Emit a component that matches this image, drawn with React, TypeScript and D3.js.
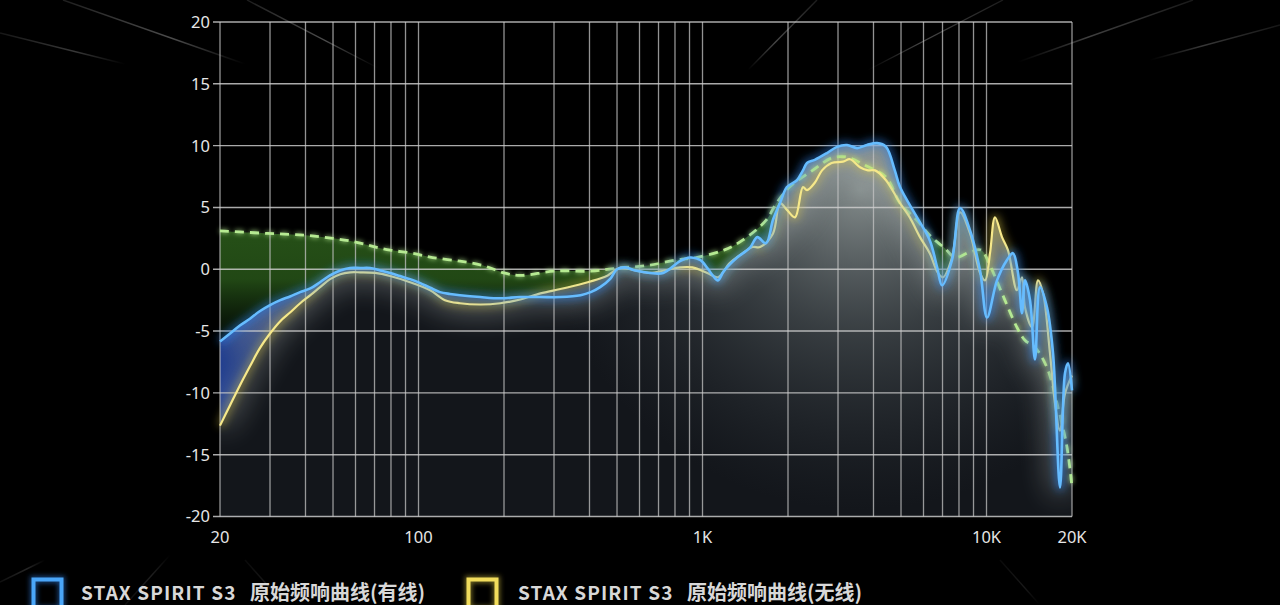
import React from "react";
import * as d3 from "d3";

// ---- data: [frequency Hz, level dB] ----
const wired: [number, number][] = [
  [20, -5.85], [21.7, -5.2], [23.5, -4.55], [25.5, -4.0], [27.6, -3.4], [30, -2.9], [32.6, -2.5], [35.3, -2.2],
  [38.3, -1.85], [41.6, -1.55], [45, -1.05], [48.8, -0.5], [53, -0.1], [57.4, 0.1], [62.3, 0.1], [67.5, 0.1],
  [73.3, -0.1], [79.5, -0.3], [86.1, -0.55], [93.4, -0.8], [101, -1.1], [110, -1.5], [119, -1.85], [129, -2.0],
  [140, -2.1], [165, -2.25], [194, -2.35], [228, -2.25], [269, -2.25], [316, -2.25], [372, -2.1], [404, -1.85],
  [436, -1.45], [474, -0.75], [500, 0], [534, 0.15], [580, -0.1], [653, -0.3], [727, -0.3], [833, 0.65],
  [902, 0.95], [980, 0.75], [1040, 0.1], [1086, -0.5], [1133, -0.9], [1181, -0.25], [1219, 0.15], [1324, 0.95],
  [1470, 1.75], [1560, 2.6], [1673, 2.1], [1771, 4.0], [1874, 5.35], [1983, 6.65], [2151, 7.2], [2258, 8.0],
  [2333, 8.6], [2485, 8.85], [2744, 9.4], [2975, 9.9], [3227, 10.05], [3502, 9.8], [3795, 10.05], [4120, 10.2],
  [4428, 9.9], [4754, 8.0], [4960, 6.65], [5692, 4.2], [6311, 2.35], [6702, 0.15], [6973, -1.3], [7560, 0.75],
  [8068, 4.95], [8750, 3.15], [9490, -0.1], [10045, -3.9], [10890, -0.9], [11809, 0.75], [12394, 1.3],
  [12910, -0.3], [13335, -3.55], [13665, -0.9], [14228, -2.5], [14817, -7.3], [15432, -1.45], [16333, -3.1],
  [17147, -6.8], [18146, -17.65], [18896, -8.4], [19361, -7.6], [20000, -9.8],
];

const wireless: [number, number][] = [
  [20, -12.65], [21.7, -11.0], [23.5, -9.4], [25.5, -7.85], [27.6, -6.4], [30, -5.2], [32.6, -4.2], [35.3, -3.5],
  [38.3, -2.75], [41.6, -2.1], [45, -1.45], [48.8, -0.8], [53, -0.4], [57.4, -0.25], [62.3, -0.25], [70.5, -0.3],
  [79.5, -0.55], [93.4, -1.05], [110, -1.7], [124, -2.5], [140, -2.75], [165, -2.85], [194, -2.75], [228, -2.45],
  [269, -1.95], [316, -1.6], [380, -1.15], [436, -0.75], [464, -0.5], [512, 0.1], [580, -0.1], [653, -0.3],
  [735, -0.1], [833, 0.15], [922, 0.15], [1040, -0.3], [1133, -0.65], [1247, 0.5], [1385, 1.3], [1500, 1.8],
  [1594, 1.8], [1771, 2.9], [1874, 5.35], [1983, 4.8], [2117, 4.2], [2258, 6.65], [2333, 6.4], [2485, 7.0],
  [2636, 8.0], [2846, 8.6], [3124, 8.7], [3306, 8.9], [3586, 8.25], [3826, 8.0], [4051, 8.0], [4428, 7.2],
  [4960, 5.35], [5370, 4.2], [5833, 2.6], [6311, 1.3], [6749, -0.3], [7029, -0.65], [7560, 0.95], [8068, 4.6],
  [8750, 2.9], [9490, -0.3], [9883, -0.9], [10288, 1.3], [10713, 4.2], [11340, 2.6], [11900, 1.55],
  [12802, -1.7], [13335, -0.65], [13665, -3.1], [14461, -4.7], [15182, -0.9], [15812, -1.95], [16733, -6.8],
  [17426, -10.85], [18146, -13.05], [18896, -10.05], [20000, -8.6],
];

const target: [number, number][] = [
  [20, 3.1], [29.3, 2.9], [40, 2.75], [50, 2.5], [60, 2.2], [69, 1.85], [79.5, 1.55], [95, 1.3], [112, 0.95],
  [140, 0.65], [169, 0.3], [200, -0.3], [228, -0.5], [300, -0.15], [405, -0.15], [508, 0.1], [640, 0.3],
  [810, 0.75], [950, 0.95], [1190, 1.55], [1385, 2.35], [1673, 3.95], [1822, 5.35], [2026, 6.65], [2440, 8.0],
  [2846, 9.0], [3124, 9.1], [3306, 9.0], [3700, 8.45], [4428, 7.45], [4960, 5.35], [5692, 3.95], [6400, 2.6],
  [7136, 1.7], [7750, 0.95], [8750, 1.4], [9560, 1.55], [10360, 0.15], [11340, -1.95], [12802, -4.7],
  [13665, -5.75], [14798, -6.3], [16333, -7.95], [17710, -10.85], [19200, -14.4], [20000, -17.65],
];

const gridFreqs: number[] = [
  20, 30, 40, 50, 60, 70, 80, 90, 100, 200, 300, 400, 500, 600, 700, 800, 900, 1000,
  2000, 3000, 4000, 5000, 6000, 7000, 8000, 9000, 10000, 20000,
];
const xTickValues: number[] = [20, 100, 1000, 10000, 20000];
const xTickLabels: string[] = ["20", "100", "1K", "10K", "20K"];
const yTickValues: number[] = [20, 15, 10, 5, 0, -5, -10, -15, -20];

const legendNames: string[] = ["STAX SPIRIT S3", "STAX SPIRIT S3"];
const legendLabels: string[] = ["原始频响曲线(有线)", "原始频响曲线(无线)"];

// decorative background rays [x1,y1,x2,y2,opacity]
const rays: number[][] = [
  [0, 33, 125, 64, 0.22],
  [63, 0, 245, 64, 0.3],
  [247, 0, 378, 68, 0.3],
  [817, 0, 748, 70, 0.28],
  [1003, 0, 868, 70, 0.28],
  [1193, 0, 1018, 62, 0.25],
  [1280, 25, 1150, 60, 0.22],
  [0, 582, 45, 560, 0.15],
  [125, 605, 170, 555, 0.12],
  [245, 560, 285, 605, 0.1],
  [1000, 560, 1040, 605, 0.1],
];

export default function App() {
  const W = 1280;
  const H = 605;
  const x = d3.scaleLog().domain([20, 20000]).range([220, 1072]);
  const y = d3.scaleLinear().domain([-20, 20]).range([516.5, 22]);

  const line = d3
    .line<[number, number]>()
    .x((d) => x(d[0]))
    .y((d) => y(d[1]))
    .curve(d3.curveCatmullRom.alpha(0.5));
  const area = d3
    .area<[number, number]>()
    .x((d) => x(d[0]))
    .y0(y(-20))
    .y1((d) => y(d[1]))
    .curve(d3.curveCatmullRom.alpha(0.5));

  const font = "'Noto Sans', 'Open Sans', sans-serif";
  const cjk = "'Noto Sans CJK SC', 'Noto Sans', sans-serif";
  const wiredLine = line(wired) || "";
  const wirelessLine = line(wireless) || "";
  const wiredArea = area(wired) || "";
  const wirelessArea = area(wireless) || "";

  return (
    <svg
      width={W}
      height={H}
      style={{ position: "fixed", left: 0, top: 0, background: "#000", display: "block" }}
    >
      <style>{`body{margin:0;background:#000}`}</style>
      <defs>
        <filter id="glow" x="-10%" y="-10%" width="120%" height="120%">
          <feGaussianBlur stdDeviation="2.5" result="b" />
          <feMerge>
            <feMergeNode in="b" />
            <feMergeNode in="SourceGraphic" />
          </feMerge>
        </filter>
        <filter id="halo" x="-10%" y="-10%" width="120%" height="120%">
          <feGaussianBlur stdDeviation="4" />
        </filter>
        <filter id="bigBlur" filterUnits="userSpaceOnUse" x="100" y="-100" width="1100" height="800">
          <feGaussianBlur stdDeviation="15" />
        </filter>
        <filter id="soft" x="-30%" y="-30%" width="160%" height="160%">
          <feGaussianBlur stdDeviation="2.5" />
        </filter>
        <clipPath id="underCurves">
          <path d={wiredArea} />
          <path d={wirelessArea} />
        </clipPath>
        <clipPath id="plotClip">
          <rect x={220} y={22} width={852} height={495} />
        </clipPath>
        <radialGradient id="peakGlow" gradientUnits="userSpaceOnUse" cx="860" cy="190" r="320">
          <stop offset="0" stopColor="rgb(170,180,178)" stopOpacity="0.75" />
          <stop offset="0.45" stopColor="rgb(110,120,122)" stopOpacity="0.4" />
          <stop offset="1" stopColor="rgb(60,68,75)" stopOpacity="0" />
        </radialGradient>
        <linearGradient id="greenFill" gradientUnits="userSpaceOnUse" x1="0" y1="225" x2="0" y2="360">
          <stop offset="0" stopColor="rgb(45,95,28)" stopOpacity="0.85" />
          <stop offset="0.4" stopColor="rgb(42,90,26)" stopOpacity="0.8" />
          <stop offset="0.75" stopColor="rgb(25,60,20)" stopOpacity="0.35" />
          <stop offset="1" stopColor="rgb(10,30,10)" stopOpacity="0" />
        </linearGradient>
        <linearGradient id="blueTint" gradientUnits="userSpaceOnUse" x1="220" y1="0" x2="520" y2="0">
          <stop offset="0" stopColor="rgb(25,60,160)" stopOpacity="0.85" />
          <stop offset="0.4" stopColor="rgb(25,50,120)" stopOpacity="0.45" />
          <stop offset="1" stopColor="rgb(25,50,120)" stopOpacity="0" />
        </linearGradient>
        {rays.map((r, i) => (
          <linearGradient
            key={i}
            id={`ray${i}`}
            gradientUnits="userSpaceOnUse"
            x1={r[0]}
            y1={r[1]}
            x2={r[2]}
            y2={r[3]}
          >
            <stop offset="0" stopColor="#fff" stopOpacity={r[4] * 0.4} />
            <stop offset="0.6" stopColor="#fff" stopOpacity={r[4]} />
            <stop offset="1" stopColor="#fff" stopOpacity="0" />
          </linearGradient>
        ))}
      </defs>

      <rect x={0} y={0} width={W} height={H} fill="#000" />

      {rays.map((r, i) => (
        <line key={i} x1={r[0]} y1={r[1]} x2={r[2]} y2={r[3]} stroke={`url(#ray${i})`} strokeWidth={1.4} />
      ))}

      {/* green area under target */}
      <path d={area(target) || ""} fill="url(#greenFill)" clipPath="url(#plotClip)" />

      {/* glow area under measured curves */}
      <g clipPath="url(#underCurves)">
        <rect x={220} y={22} width={852} height={495} fill="rgb(19,22,27)" />
        <path d={wiredArea} fill="url(#blueTint)" />
        <path d={wirelessArea} fill="rgb(19,22,27)" />
        <rect x={220} y={22} width={852} height={495} fill="url(#peakGlow)" />
        <g filter="url(#bigBlur)" opacity={0.42}>
          <path d={wirelessLine} fill="none" stroke="rgb(200,210,208)" strokeWidth={18} />
          <path d={wiredLine} fill="none" stroke="rgb(200,210,208)" strokeWidth={18} />
        </g>
      </g>

      {/* grid */}
      <g>
        {gridFreqs.map((f) => (
          <line
            key={`v${f}`}
            x1={x(f)}
            x2={x(f)}
            y1={y(20)}
            y2={y(-20)}
            stroke="#c4c4c4"
            strokeOpacity={0.75}
            strokeWidth={1.3}
          />
        ))}
        {yTickValues.map((v) => (
          <line
            key={`h${v}`}
            x1={213}
            x2={x(20000)}
            y1={y(v)}
            y2={y(v)}
            stroke="#cfcfcf"
            strokeOpacity={0.82}
            strokeWidth={1.4}
          />
        ))}
      </g>

      {/* y labels */}
      {yTickValues.map((v) => (
        <text
          key={`yl${v}`}
          x={210}
          y={y(v)}
          dy="0.36em"
          textAnchor="end"
          fontFamily={font}
          fontSize={16.5}
          fill="#e6e6e6"
        >
          {v}
        </text>
      ))}
      {/* x labels */}
      {xTickValues.map((f, i) => (
        <text
          key={`xl${f}`}
          x={x(f)}
          y={543}
          textAnchor="middle"
          fontFamily={font}
          fontSize={16.5}
          fill="#e6e6e6"
        >
          {xTickLabels[i]}
        </text>
      ))}

      {/* target dashed */}
      <path
        d={line(target) || ""}
        fill="none"
        stroke="#b6ea92"
        strokeWidth={2.8}
        strokeDasharray="9 6"
        filter="url(#glow)"
      />

      {/* wireless (yellow) */}
      <path d={wirelessLine} fill="none" stroke="#d9c640" strokeWidth={6} strokeOpacity={0.5} filter="url(#halo)" />
      <path d={wirelessLine} fill="none" stroke="#f6e88a" strokeWidth={2.2} />

      {/* wired (blue) */}
      <path d={wiredLine} fill="none" stroke="#2f86f0" strokeWidth={7} strokeOpacity={0.6} filter="url(#halo)" />
      <path d={wiredLine} fill="none" stroke="#66bcff" strokeWidth={2.6} />

      {/* legend */}
      <g>
        <rect x={33.5} y={579.5} width={28} height={30} fill="none" stroke="#2f86f0" strokeWidth={7} strokeOpacity={0.5} filter="url(#soft)" />
        <rect x={33.5} y={579.5} width={28} height={30} fill="none" stroke="#4aa6f8" strokeWidth={4} />
        <text x={81} y={600} fontFamily={cjk} fontWeight={700} fontSize={19} fill="#d8d8d8">
          <tspan letterSpacing={1.1}>{legendNames[0]}</tspan>
          <tspan x={250} fontSize={20}>{legendLabels[0]}</tspan>
        </text>
        <rect x={468.5} y={579.5} width={28} height={30} fill="none" stroke="#d9c640" strokeWidth={7} strokeOpacity={0.5} filter="url(#soft)" />
        <rect x={468.5} y={579.5} width={28} height={30} fill="none" stroke="#f2dd5c" strokeWidth={4} />
        <text x={518} y={600} fontFamily={cjk} fontWeight={700} fontSize={19} fill="#d8d8d8">
          <tspan letterSpacing={1.1}>{legendNames[1]}</tspan>
          <tspan x={687} fontSize={20}>{legendLabels[1]}</tspan>
        </text>
      </g>
    </svg>
  );
}
